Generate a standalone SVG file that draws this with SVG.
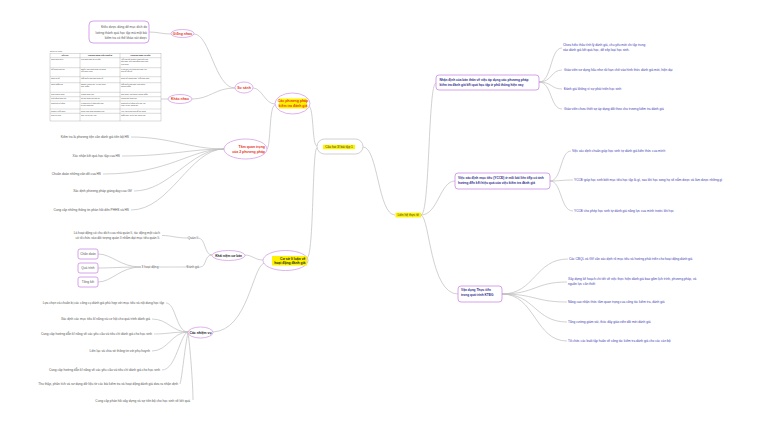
<svg xmlns="http://www.w3.org/2000/svg" width="768" height="428" viewBox="0 0 768 428">
<style>
text{font-family:"Liberation Sans",Arial,sans-serif}
.ln{fill:none;stroke:#bdbdbd;stroke-width:0.7}
.ell{fill:#fff;stroke:#d59ee9;stroke-width:0.8}
.box{fill:#fff;stroke:#c98be6;stroke-width:0.8}
.root{fill:#fff;stroke:#c4c4c4;stroke-width:0.8}
.hl{fill:#fff200}
.red{fill:#e8341c;font-weight:bold;font-size:3.5px}
.blk{fill:#222;font-weight:bold;font-size:3.4px}
.lg{fill:#555;font-size:3.2px}
.lb{fill:#3b3bb3;font-size:3.2px}
.nb{fill:#2d2d8f;font-weight:bold;font-size:3.2px}
.tb{fill:none;stroke:#888;stroke-width:0.3}
.tt{fill:#444;font-size:1.8px}
.th{fill:#222;font-size:1.9px;font-weight:bold}
.e{text-anchor:end}
.m{text-anchor:middle}
</style>
<rect width="768" height="428" fill="#fff"/>
<g id="connectors">
<path class="ln" d="M317,146 C312,146 314,109 309,106"/>
<path class="ln" d="M317,148 C312,148 314,256 307,258"/>
<path class="ln" d="M363,147 C378,147 378,215 395,215"/>
<path class="ln" d="M421,215 C430,215 428,83 436,83"/>
<path class="ln" d="M421,215 C438,215 440,181 455,181"/>
<path class="ln" d="M421,215 C430,218 430,294 458,294"/>
<path class="ln" d="M539,82 C552,82 550,48 562,48"/>
<path class="ln" d="M539,82 C552,82 551,70 562,70"/>
<path class="ln" d="M539,82 C552,82 551,89 562,89"/>
<path class="ln" d="M539,82 C552,82 550,109 562,109"/>
<path class="ln" d="M550,181 C562,181 560,151 571,151"/>
<path class="ln" d="M550,181 C560,181 562,180 573,180"/>
<path class="ln" d="M550,181 C562,181 560,211 573,211"/>
<path class="ln" d="M502,294 C535,294 535,259 568,259"/>
<path class="ln" d="M502,294 C535,294 535,282 567,282"/>
<path class="ln" d="M502,294 C535,294 535,302 567,302"/>
<path class="ln" d="M502,294 C535,294 535,322 567,322"/>
<path class="ln" d="M502,294 C535,294 535,341 567,341"/>
<path class="ln" d="M275,104 C265,104 262,88 253,88"/>
<path class="ln" d="M275,105 C269,106 271,145 267,149"/>
<path class="ln" d="M235,88 C215,88 210,34 194,34"/>
<path class="ln" d="M235,88 C215,88 210,99 192,99"/>
<path class="ln" d="M171,34 C162,34 158,32 149,32"/>
<path class="ln" d="M168,99 L161,99"/>
<path class="ln" d="M224,149 C190,149 170,137 131,137"/>
<path class="ln" d="M224,149 C190,149 170,156 122,156"/>
<path class="ln" d="M224,149 C190,149 170,174 103,174"/>
<path class="ln" d="M224,149 C190,149 170,191 134,191"/>
<path class="ln" d="M224,149 C190,149 170,210 131,210"/>
<path class="ln" d="M263,260 C255,260 252,255 245,255"/>
<path class="ln" d="M264,263 C252,268 248,330 213,332"/>
<path class="ln" d="M212,255 C204,255 206,238 198,238"/>
<path class="ln" d="M212,255 C204,255 207,267 200,267"/>
<path class="ln" d="M188,238 C175,238 172,235.5 162,235.5"/>
<path class="ln" d="M186,267 C175,267 170,267 159,267"/>
<path class="ln" d="M141,267 C120,267 112,254 98,254"/>
<path class="ln" d="M141,267 C120,267 112,268 98,268"/>
<path class="ln" d="M141,267 C120,267 112,282 98,282"/>
<path class="ln" d="M188,332 C176,332 176,303 166,303"/>
<path class="ln" d="M188,332 C172,332 168,319 152,319"/>
<path class="ln" d="M188,332 C172,332 168,334 154,334"/>
<path class="ln" d="M188,332 C172,332 168,351 152,351"/>
<path class="ln" d="M188,332 C180,334 176,370 162,370"/>
<path class="ln" d="M188,333 C185,345 182,378 180,384"/>
<path class="ln" d="M188,333 C190,345 193,385 193,400"/>
</g>
<g id="root">
<rect class="root" x="317" y="139" width="46" height="15" rx="7.5"/>
<rect class="hl" x="323" y="144.8" width="32" height="4.4"/>
<text class="m" x="339" y="148.2" style="font-size:3.2px;fill:#333">Câu hỏi 3/ bài tập 1</text>
</g>
<g id="cac-phuong-phap">
<ellipse class="ell" cx="292.5" cy="103.5" rx="17.5" ry="10.5"/>
<rect class="hl" x="279" y="98.5" width="28" height="10"/>
<text class="red m" x="293" y="102.3">Các phương pháp</text>
<text class="red m" x="293" y="107.1">kiểm tra đánh giá</text>
</g>
<g id="so-sanh">
<ellipse class="ell" cx="244" cy="87.5" rx="9" ry="5.5"/>
<text class="red m" x="244" y="88.7">So sánh</text>
</g>
<g id="giong-nhau">
<ellipse class="ell" cx="182.5" cy="33.5" rx="11.5" ry="4"/>
<text class="red m" x="182.5" y="34.7">Giống nhau</text>
</g>
<g id="giong-nhau-text">
<rect class="box" x="89" y="21" width="60" height="22" rx="4"/>
<text class="lg e" x="147" y="28.2">Điều được dùng để mục đích đo</text>
<text class="lg e" x="147" y="33.6">lường thành quả học tập mà một bài</text>
<text class="lg e" x="147" y="39">kiểm tra có thể khảo sát được</text>
</g>
<g id="khac-nhau">
<ellipse class="ell" cx="180" cy="99" rx="12" ry="4.5"/>
<text class="red m" x="180" y="100.2">Khác nhau</text>
</g>
<g id="bang-so-sanh">
<text x="50" y="51.5" style="font-size:2px;fill:#666">Bảng so sánh</text>
<rect class="tb" x="50" y="53.5" width="111" height="67.5"/>
<path class="tb" d="M80,53.5V121 M120,53.5V121 M50,57.7H161 M50,67.7H161 M50,76.7H161 M50,82.7H161 M50,92.3H161 M50,96.7H161 M50,101H161 M50,109H161 M50,113.3H161"/>
<text class="th m" x="65" y="56.3">Tiêu chí</text>
<text class="th m" x="100" y="56.3">Phương pháp Trắc nghiệm</text>
<text class="th m" x="140.5" y="56.3">Phương pháp Tự luận</text>
<text class="tt" x="51" y="60">Cách thực hiện</text>
<text class="tt" x="81" y="60">Lựa chọn đáp án có sẵn</text>
<text class="tt" x="121" y="60">Viết câu trả lời theo cách hiểu của</text>
<text class="tt" x="121" y="62.3">bản thân, diễn đạt bằng ngôn ngữ</text>
<text class="tt" x="121" y="64.6">của mình</text>
<text class="tt" x="51" y="70">Số lượng câu hỏi</text>
<text class="tt" x="81" y="70">Nhiều, bao quát được nội dung,</text>
<text class="tt" x="81" y="72.3">kiến thức rộng</text>
<text class="tt" x="121" y="70">Ít câu hỏi, nội dung hẹp hơn, chỉ</text>
<text class="tt" x="121" y="72.3">một số vấn đề</text>
<text class="tt" x="51" y="79">Cách ra đề</text>
<text class="tt" x="81" y="79">Mất nhiều thời gian soạn đề</text>
<text class="tt" x="121" y="79">Soạn đề nhanh hơn, ít tốn thời gian</text>
<text class="tt" x="51" y="85">Cách chấm bài</text>
<text class="tt" x="81" y="85">Nhanh, chính xác, có thể dùng</text>
<text class="tt" x="81" y="87.3">máy chấm</text>
<text class="tt" x="121" y="85">Mất nhiều thời gian, phụ thuộc</text>
<text class="tt" x="121" y="87.3">người chấm</text>
<text class="tt" x="51" y="95">Tính khách quan</text>
<text class="tt" x="81" y="95">Khách quan cao</text>
<text class="tt" x="121" y="95">Chủ quan, phụ thuộc người chấm</text>
<text class="tt" x="51" y="99.3">Khả năng đoán mò</text>
<text class="tt" x="81" y="99.3">Có thể đoán mò đáp án</text>
<text class="tt" x="121" y="99.3">Không thể đoán mò</text>
<text class="tt" x="51" y="103.5">Phát triển kĩ năng</text>
<text class="tt" x="81" y="103.5">Ít phát triển kĩ năng diễn đạt,</text>
<text class="tt" x="81" y="105.8">tư duy sáng tạo</text>
<text class="tt" x="121" y="103.5">Phát triển kĩ năng diễn đạt, lập</text>
<text class="tt" x="121" y="105.8">luận, tư duy sáng tạo</text>
<text class="tt" x="51" y="111.8">Phạm vi kiến thức</text>
<text class="tt" x="81" y="111.8">Rộng, bao quát chương trình</text>
<text class="tt" x="121" y="111.8">Hẹp, tập trung một số nội dung</text>
<text class="tt" x="51" y="116">Tính ổn định</text>
<text class="tt" x="81" y="116">Cao, độ tin cậy cao</text>
<text class="tt" x="121" y="116">Thấp hơn, độ tin cậy chưa cao</text>
</g>
<g id="tam-quan-trong">
<ellipse class="ell" cx="245.5" cy="149" rx="21.5" ry="10"/>
<text class="red e" x="265" y="147.8">Tầm quan trọng</text>
<text class="red e" x="265" y="153.2">của 2 phương pháp</text>
</g>
<g id="tam-quan-trong-leaves">
<text class="lg e" x="129" y="138.1">Kiểm tra là phương tiện cần đánh giá tiến bộ HS</text>
<text class="lg e" x="120" y="157.1">Xác nhận kết quả học tập của HS</text>
<text class="lg e" x="101" y="175.1">Chuẩn đoán những vấn đề của HS</text>
<text class="lg e" x="132" y="192.1">Xác định phương pháp giảng dạy của GV</text>
<text class="lg e" x="129" y="211.1">Cung cấp những thông tin phản hồi đến PHHS và HS</text>
</g>
<g id="co-so-li-luan">
<ellipse class="ell" cx="285.5" cy="260.5" rx="22.5" ry="10"/>
<rect class="hl" x="272" y="256" width="35" height="9.5"/>
<text class="blk e" x="305.5" y="259.6">Cơ sở lí luận về</text>
<text class="blk e" x="305.5" y="264.4">hoạt động đánh giá</text>
</g>
<g id="khai-niem">
<ellipse class="ell" cx="228.5" cy="255.5" rx="16.5" ry="5"/>
<text class="blk m" x="228.5" y="256.7" style="font-size:3.2px">Khái niệm cơ bản</text>
</g>
<g id="quan-li">
<text class="lg m" x="193" y="239.1">Quản lí</text>
<text class="lg e" x="160" y="233.6">Là hoạt động có chủ đích của nhà quản lí, tác động một cách</text>
<text class="lg e" x="160" y="238.6">có tổ chức vào đối tượng quản lí nhằm đạt mục tiêu quản lí.</text>
</g>
<g id="danh-gia">
<text class="lg m" x="193" y="268.1">Đánh giá</text>
<text class="lg m" x="150" y="268.1">3 hoạt động</text>
</g>
<g id="chan-doan">
<rect class="box" x="78" y="249" width="20" height="10" rx="2"/>
<text class="lg m" x="88" y="255.1">Chẩn đoán</text>
</g>
<g id="qua-trinh">
<rect class="box" x="78" y="263" width="20" height="10" rx="2"/>
<text class="lg m" x="88" y="269.1">Quá trình</text>
</g>
<g id="tong-ket">
<rect class="box" x="78" y="277" width="20" height="10" rx="2"/>
<text class="lg m" x="88" y="283.1">Tổng kết</text>
</g>
<g id="cac-nhiem-vu">
<ellipse class="ell" cx="200.5" cy="332.5" rx="12.5" ry="5.5"/>
<text class="blk m" x="200.5" y="333.7">Các nhiệm vụ</text>
</g>
<g id="nhiem-vu-leaves">
<text class="lg e" x="164" y="304.1">Lựa chọn và chuẩn bị các công cụ đánh giá phù hợp với mục tiêu và nội dung học tập</text>
<text class="lg e" x="150" y="320.1">Xác định các mục tiêu kĩ năng và cơ hội cho quá trình đánh giá</text>
<text class="lg e" x="152" y="335.1">Cung cấp hướng dẫn kĩ năng về các yêu cầu và tiêu chí đánh giá cho học sinh</text>
<text class="lg e" x="150" y="352.1">Liên lạc và chia sẻ thông tin với phụ huynh</text>
<text class="lg e" x="160" y="371.1">Cung cấp hướng dẫn kĩ năng về các yêu cầu và tiêu chí đánh giá cho học sinh</text>
<text class="lg e" x="178" y="385.1">Thu thập, phân tích và sử dụng dữ liệu từ các bài kiểm tra và hoạt động đánh giá đưa ra nhận định</text>
<text class="lg e" x="190" y="402.1">Cung cấp phản hồi xây dựng và sự tiến bộ cho học sinh về kết quả</text>
</g>
<g id="lien-he-thuc-te">
<rect class="hl" x="395.5" y="212.6" width="25.5" height="4.8"/>
<text class="m" x="408.2" y="216.2" style="font-size:3.2px;fill:#333">Liên hệ thực tế</text>
</g>
<g id="nhan-dinh">
<rect class="box" x="436" y="75" width="103" height="15" rx="3"/>
<text class="nb" x="439.5" y="81.2">Nhận định của bản thân về việc áp dụng các phương pháp</text>
<text class="nb" x="439.5" y="86.2">kiểm tra đánh giá kết quả học tập ở phổ thông hiện nay</text>
</g>
<g id="nhan-dinh-leaves">
<text class="lb" x="563" y="46.1">Chưa hiểu thấu tính lý đánh giá, chủ yếu mới chỉ tập trung</text>
<text class="lb" x="563" y="51.1">vào đánh giá kết quả học, để xếp loại học sinh.</text>
<text class="lb" x="564" y="71.1">Giáo viên sử dụng hầu như rất hạn chế vào hình thức đánh giá mới, hiện đại</text>
<text class="lb" x="564" y="90.1">Đánh giá không vì sự phát triển học sinh</text>
<text class="lb" x="564" y="110.1">Giáo viên chưa thiết sự áp dụng đổi theo chủ trương kiểm tra đánh giá</text>
</g>
<g id="muc-tieu">
<rect class="box" x="455" y="173" width="95" height="16" rx="3"/>
<text class="nb" x="458" y="179.3">Việc xác định mục tiêu (YCCĐ) ở mỗi bài liên tiếp có ảnh</text>
<text class="nb" x="458" y="184.3">hưởng đến kết hiệu quả của việc kiểm tra đánh giá</text>
</g>
<g id="muc-tieu-leaves">
<text class="lb" x="572" y="152.1">Việc xác định chuẩn giúp học sinh tự đánh giá kiến thức của mình</text>
<text class="lb" x="574" y="181.1">YCCĐ giúp học sinh biết mục tiêu học tập là gì, sau khi học xong họ sẽ nắm được và làm được những gì</text>
<text class="lb" x="574" y="212.1">YCCĐ cho phép học sinh tự đánh giá năng lực của mình trước khi học</text>
</g>
<g id="van-dung">
<rect class="box" x="458" y="286" width="44" height="16" rx="3"/>
<text class="nb" x="461" y="291.2">Vận dụng Thực tiễn</text>
<text class="nb" x="461" y="296.2">trong quá trình KTĐG</text>
</g>
<g id="van-dung-leaves">
<text class="lb" x="569" y="260.1">Các CBQL và GV cần xác định rõ mục tiêu và hướng phát triển cho hoạt động đánh giá</text>
<text class="lb" x="568" y="280.3">Xây dựng kế hoạch chi tiết về việc thực hiện đánh giá bao gồm lịch trình, phương pháp, và</text>
<text class="lb" x="568" y="285.3">nguồn lực cần thiết</text>
<text class="lb" x="568" y="303.1">Nâng cao nhận thức tầm quan trọng của công tác kiểm tra, đánh giá</text>
<text class="lb" x="568" y="323.1">Tăng cường giám sát, thúc đẩy giáo viên đổi mới đánh giá</text>
<text class="lb" x="568" y="342.1">Tổ chức các buổi tập huấn về công tác kiểm tra đánh giá cho các cán bộ</text>
</g>
</svg>
